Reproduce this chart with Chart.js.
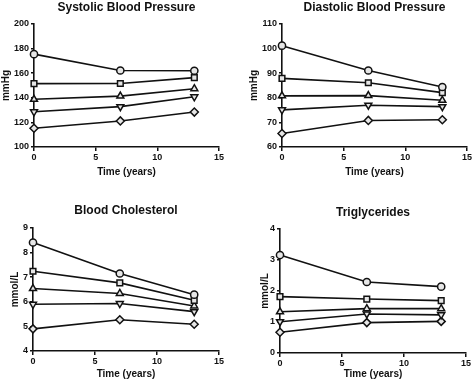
<!DOCTYPE html>
<html>
<head>
<meta charset="utf-8">
<script src="https://cdn.jsdelivr.net/npm/chart.js@4.4.1/dist/chart.umd.min.js"></script>
<style>
  html, body { margin: 0; padding: 0; background: #fff; }
  #wrap { position: relative; width: 474px; height: 383px; overflow: hidden; }
  canvas { position: absolute; }
</style>
</head>
<body>
<div id="wrap">
  <canvas id="c1" width="237" height="190" style="left:0;top:0"></canvas>
  <canvas id="c2" width="237" height="190" style="left:237px;top:0"></canvas>
  <canvas id="c3" width="237" height="193" style="left:0;top:190px"></canvas>
  <canvas id="c4" width="237" height="193" style="left:237px;top:190px"></canvas>
</div>
<script>
// ---- data ----
const years = [0, 7, 13];
const xTicks = [0, 5, 10, 15];

const titles = ["Systolic Blood Pressure", "Diastolic Blood Pressure", "Blood Cholesterol", "Triglycerides"];
const yTitles = ["mmHg", "mmHg", "mmol/L", "mmol/L"];

// Systolic blood pressure (mmHg)
const sbpCircle  = [175.5, 162.2, 162.0];
const sbpSquare  = [151.5, 151.6, 156.4];
const sbpUp      = [138.8, 141.4, 147.4];
const sbpDown    = [128.6, 132.8, 140.8];
const sbpDiamond = [115.2, 121.2, 128.4];

// Diastolic blood pressure (mmHg)
const dbpCircle  = [101.2, 91.1, 84.4];
const dbpSquare  = [87.9, 86.1, 82.1];
const dbpUp      = [80.8, 80.9, 79.0];
const dbpDown    = [75.1, 77.0, 76.4];
const dbpDiamond = [65.5, 70.8, 71.1];

// Blood cholesterol (mmol/L)
const cholCircle  = [8.41, 7.15, 6.29];
const cholSquare  = [7.24, 6.77, 6.06];
const cholUp      = [6.54, 6.34, 5.83];
const cholDown    = [5.90, 5.93, 5.60];
const cholDiamond = [4.90, 5.27, 5.09];

// Triglycerides (mmol/L)
const tgCircle  = [3.16, 2.29, 2.14];
const tgSquare  = [1.82, 1.74, 1.69];
const tgUp      = [1.33, 1.43, 1.43];
const tgDown    = [1.01, 1.26, 1.23];
const tgDiamond = [0.67, 0.98, 1.02];

// y ranges per panel
const yMin = [100, 60, 4, 0];
const yMax = [200, 110, 9, 4];
const yStep = [20, 10, 1, 1];

// ---- styling / build ----
const FONT = "'Liberation Sans', Arial, Helvetica, sans-serif";
const INK = '#111';
const markers = [
  { style: 'circle', rot: 0, r: 3.6 },
  { style: 'rect', rot: 0, r: 4 },
  { style: 'triangle', rot: 0, r: 4 },
  { style: 'triangle', rot: 180, r: 4 },
  { style: 'rectRot', rot: 0, r: 4 }
];

function mkDatasets(series) {
  return series.map((vals, i) => ({
    data: years.map((x, j) => ({ x: x, y: vals[j] })),
    borderColor: INK,
    borderWidth: 1.6,
    clip: false,
    pointStyle: markers[i].style,
    pointRotation: markers[i].rot,
    pointRadius: markers[i].r,
    pointBorderWidth: 1.5,
    pointBorderColor: INK,
    pointBackgroundColor: '#e6e6e6',
    tension: 0
  }));
}

const titlePlugin = {
  id: 'panelTitle',
  afterDraw(chart, args, opts) {
    const ctx = chart.ctx;
    const ca = chart.chartArea;
    ctx.save();
    ctx.font = 'bold 12px ' + FONT;
    ctx.fillStyle = INK;
    ctx.textAlign = 'center';
    ctx.textBaseline = 'alphabetic';
    ctx.fillText(opts.text, (ca.left + ca.right) / 2, opts.y);
    ctx.restore();
  }
};

// layout per panel: y-axis width, x-axis height, top pad, right pad, y-title padding, title baseline
const panels = [
  { id: 'c1', series: [sbpCircle, sbpSquare, sbpUp, sbpDown, sbpDiamond], yw: 34, xh: 43, top: 24, right: 18, ytp: 0, tb: 10.5 },
  { id: 'c2', series: [dbpCircle, dbpSquare, dbpUp, dbpDown, dbpDiamond], yw: 45, xh: 43, top: 24, right: 7, ytp: 11, tb: 10.5 },
  { id: 'c3', series: [cholCircle, cholSquare, cholUp, cholDown, cholDiamond], yw: 33, xh: 32, top: 38, right: 18, ytp: 9, tb: 24 },
  { id: 'c4', series: [tgCircle, tgSquare, tgUp, tgDown, tgDiamond], yw: 43, xh: 30, top: 39, right: 8, ytp: 22, tb: 26 }
];

panels.forEach((p, k) => {
  new Chart(document.getElementById(p.id), {
    type: 'line',
    data: { datasets: mkDatasets(p.series) },
    options: {
      responsive: false,
      animation: false,
      devicePixelRatio: 1,
      layout: { padding: { top: p.top, right: p.right, bottom: 0, left: 0 } },
      plugins: {
        legend: { display: false },
        tooltip: { enabled: false },
        panelTitle: { text: titles[k], y: p.tb }
      },
      scales: {
        x: {
          type: 'linear',
          min: 0, max: 15,
          afterBuildTicks: s => { s.ticks = xTicks.map(v => ({ value: v })); },
          afterFit: s => { s.height = p.xh; },
          ticks: { color: INK, font: { family: FONT, size: 9, weight: 'bold' }, padding: 1, maxRotation: 0 },
          grid: { display: true, drawOnChartArea: false, drawTicks: true, tickLength: 4, color: INK, lineWidth: 1.5 },
          border: { display: true, color: INK, width: 1.6 },
          title: { display: true, text: 'Time (years)', color: INK, font: { family: FONT, size: 10, weight: 'bold' }, padding: { top: 0, bottom: k < 2 ? 12 : 3 } }
        },
        y: {
          type: 'linear',
          min: yMin[k], max: yMax[k],
          ticks: { stepSize: yStep[k], color: INK, font: { family: FONT, size: 9, weight: 'bold' }, padding: 2 },
          afterFit: s => { s.width = p.yw; },
          grid: { display: true, drawOnChartArea: false, drawTicks: true, tickLength: 3, color: INK, lineWidth: 1.5 },
          border: { display: true, color: INK, width: 1.6 },
          title: { display: true, text: yTitles[k], color: INK, font: { family: FONT, size: 10, weight: 'bold' }, padding: { top: p.ytp, bottom: 0 } }
        }
      }
    },
    plugins: [titlePlugin]
  });
});
</script>
</body>
</html>
